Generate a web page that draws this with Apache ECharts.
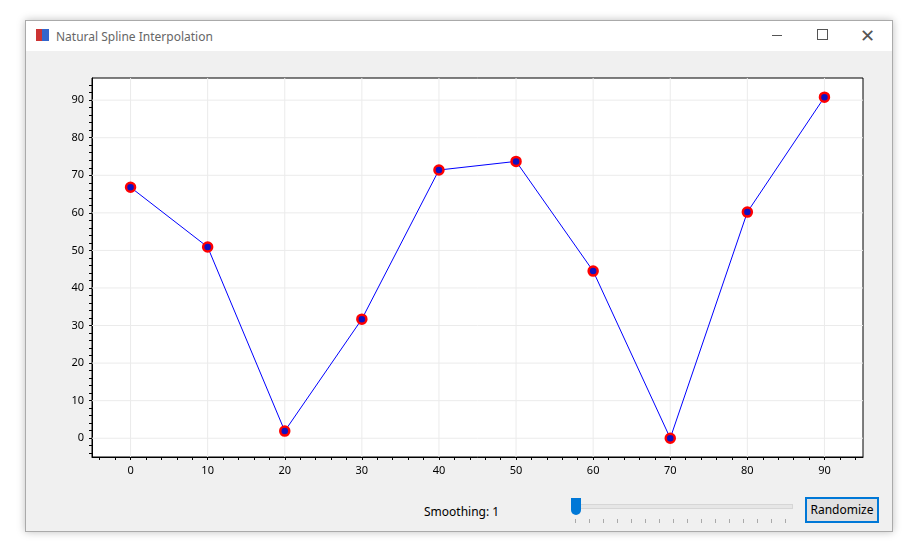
<!DOCTYPE html>
<html><head><meta charset="utf-8">
<script src="https://cdn.jsdelivr.net/npm/echarts@6/dist/echarts.min.js"></script>
<style>
body{margin:0;width:915px;height:547px;background:#fff;font-family:"Segoe UI","Noto Sans",sans-serif;position:relative;overflow:hidden}
#win{position:absolute;left:25px;top:20px;width:866px;height:510px;background:#f0f0f0;border:1px solid #aaa;box-shadow:0 0 8px rgba(0,0,0,0.25)}
#title{position:absolute;left:0;top:0;width:866px;height:30px;background:#fff;font-size:12px;color:#666}
#chart{position:absolute;left:26px;top:50px;width:860px;height:440px}
</style></head><body>
<div id="win">
 <div id="title">
  <div style="position:absolute;left:10px;top:8px;width:13px;height:12px;background:linear-gradient(90deg,#c33 50%,#36c 50%);"></div>
  <div style="position:absolute;left:30px;top:7px;">Natural Spline Interpolation</div>
  <div style="position:absolute;left:746px;top:14px;width:10px;height:1px;background:#555"></div>
  <div style="position:absolute;left:791px;top:8px;width:9px;height:9px;border:1px solid #555"></div>
  <div style="position:absolute;left:834px;top:2px;font-size:18px;color:#555">✕</div>
 </div>
 <div style="position:absolute;left:398px;top:482px;font-size:12px;color:#000">Smoothing: 1</div>
 <div style="position:absolute;left:545px;top:483px;width:220px;height:3px;background:#e6e6e6;border:1px solid #d6d6d6"></div>
 <div style="position:absolute;left:545px;top:477px;width:10px;height:17px;background:#0078d7;border-radius:0 0 5px 5px"></div>
 <div style="position:absolute;left:549px;top:498px;width:212px;height:4px;background:repeating-linear-gradient(90deg,#aaa 0 1px,transparent 1px 14px)"></div>
 <div style="position:absolute;left:779px;top:476px;width:70px;height:22px;border:2px solid #0078d7;background:#e1e1e1;font-size:12px;text-align:center;line-height:22px">Randomize</div>
</div>
<div id="chart"></div>
<script>
const xs=[0,10,20,30,40,50,60,70,80,90];
const ys=[66.8,50.9,1.9,31.7,71.4,73.7,44.5,0,60.2,90.8];
const xTicks=[0,10,20,30,40,50,60,70,80,90];
const yTicks=[0,10,20,30,40,50,60,70,80,90];
const xMinor=[];for(let v=-4;v<=94;v+=2)xMinor.push(v);
const yMinor=[];for(let v=-4;v<=94;v+=2)yMinor.push(v);
const XMIN=-5,XMAX=95,YMIN=-5,YMAX=95.9;
const c=echarts.init(document.getElementById('chart'));
const lbl={color:'#000',fontSize:11,fontFamily:'Segoe UI,Noto Sans'};
function axis(min,max,major,minor,pos){
 return {type:'value',min:min,max:max,position:pos,axisLine:{onZero:false,lineStyle:{color:'#000'}},
   axisTick:{customValues:minor,length:3,lineStyle:{color:'#000'}},
   axisLabel:Object.assign({customValues:major},lbl),splitLine:{show:false}};
}
const gridStyle={type:'line',silent:true,symbol:'none',z:1,lineStyle:{color:'#ebebeb',width:1}};
const gridSeries=xTicks.map(v=>Object.assign({data:[[v,YMIN],[v,YMAX]]},gridStyle))
 .concat(yTicks.map(v=>Object.assign({data:[[XMIN,v],[XMAX,v]]},gridStyle)));
c.setOption({animation:false,
 grid:{left:66,right:23,top:28,bottom:33,outerBoundsMode:'none',containLabel:false,show:true,backgroundColor:'#fff',borderColor:'#000',borderWidth:1},
 xAxis:axis(XMIN,XMAX,xTicks,xMinor,'bottom'), yAxis:axis(YMIN,YMAX,yTicks,yMinor,'left'),
 series:gridSeries.concat([
  {type:'line',data:xs.map((x,i)=>[x,ys[i]]),lineStyle:{color:'#0000ff',width:1},z:3,
  symbol:'circle',symbolSize:9,itemStyle:{color:'#1010c0',borderColor:'#ff0000',borderWidth:2.5}}])
});
</script></body></html>
